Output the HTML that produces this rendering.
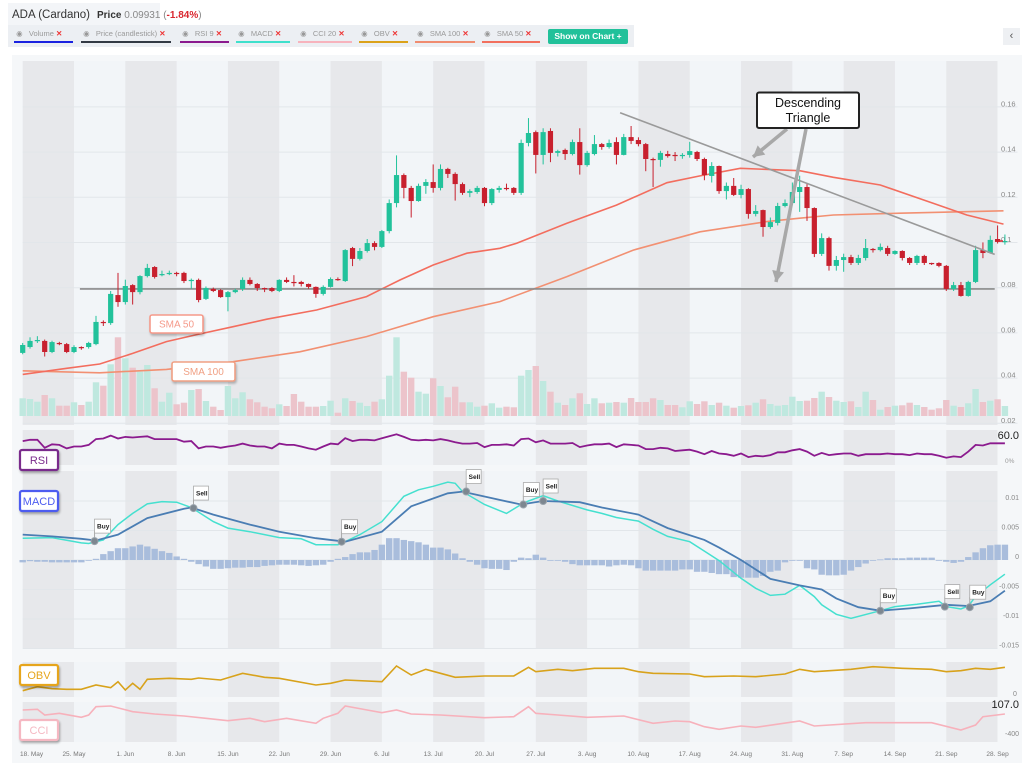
<!DOCTYPE html>
<html><head><meta charset="utf-8"><style>
body{margin:0;width:1024px;height:763px;overflow:hidden;background:#fff;font-family:"Liberation Sans",sans-serif;position:relative}
.hdr{position:absolute;left:8px;top:3px;width:152px;height:22px;background:#f3f5f8}
.title{position:absolute;left:12px;top:9px;font-size:11.5px;color:#333}
.price{position:absolute;left:97px;top:10px;font-size:10px;color:#333}
.legend{position:absolute;left:8px;top:25px;width:626px;height:22px;background:#eceff3}
.li{position:absolute;top:29px;font-size:7.5px;color:#999;height:14px;line-height:10px}
.li .x{color:#e33;font-weight:bold}
.li .u{position:absolute;left:0;right:0;top:12px;height:2px}
.btn{position:absolute;left:548px;top:29px;width:80px;height:15px;background:#21c19a;color:#fff;font-size:8.5px;font-weight:bold;line-height:15px;text-align:center;border-radius:2px}
.chev{position:absolute;left:1003px;top:28px;width:17px;height:17px;background:#eef0f3;color:#555;font-size:11px;text-align:center;line-height:17px}
svg{position:absolute;left:0;top:0}
</style></head><body>
<div class="hdr"></div>
<div class="title">ADA (Cardano)</div>
<div class="price"><b>Price</b> <span style="color:#888">0.09931</span> <span style="color:#888">(</span><b style="color:#d9262e">-1.84%</b><span style="color:#888">)</span></div>
<div class="legend"></div>
<div class="li" style="left:14px;width:59px">&nbsp;◉&nbsp;&nbsp; Volume <span class="x">✕</span><div class="u" style="background:#1a22e0"></div></div>
<div class="li" style="left:81px;width:90px">&nbsp;◉&nbsp;&nbsp; Price (candlestick) <span class="x">✕</span><div class="u" style="background:#333a44"></div></div>
<div class="li" style="left:180px;width:49px">&nbsp;◉&nbsp;&nbsp; RSI 9 <span class="x">✕</span><div class="u" style="background:#8b1a8e"></div></div>
<div class="li" style="left:236px;width:54px">&nbsp;◉&nbsp;&nbsp; MACD <span class="x">✕</span><div class="u" style="background:#3fe0cc"></div></div>
<div class="li" style="left:298px;width:54px">&nbsp;◉&nbsp;&nbsp; CCI 20 <span class="x">✕</span><div class="u" style="background:#f7b3bd"></div></div>
<div class="li" style="left:359px;width:49px">&nbsp;◉&nbsp;&nbsp; OBV <span class="x">✕</span><div class="u" style="background:#dba21a"></div></div>
<div class="li" style="left:415px;width:60px">&nbsp;◉&nbsp;&nbsp; SMA 100 <span class="x">✕</span><div class="u" style="background:#f08c70"></div></div>
<div class="li" style="left:482px;width:58px">&nbsp;◉&nbsp;&nbsp; SMA 50 <span class="x">✕</span><div class="u" style="background:#f2705e"></div></div>
<div class="btn">Show on Chart +</div>
<div class="chev">‹</div>
<svg id="c" width="1024" height="763" style="top:0"></svg>
<script>
const dates=["18. May","25. May","1. Jun","8. Jun","15. Jun","22. Jun","29. Jun","6. Jul","13. Jul","20. Jul","27. Jul","3. Aug","10. Aug","17. Aug","24. Aug","31. Aug","7. Sep","14. Sep","21. Sep","28. Sep"];
const priceTicks=[0.02,0.04,0.06,0.08,0.1,0.12,0.14,0.16];
const opens=[.0496,.0522,.0549,.0549,.0500,.0540,.0535,.0500,.0522,.0522,.0535,.0633,.0628,.0752,.0721,.0796,.0765,.0836,.0876,.0841,.0845,.0850,.0850,.0814,.0819,.0735,.0779,.0774,.0743,.0765,.0779,.0819,.0801,.0783,.0783,.0770,.0819,.0810,.0810,.0801,.0788,.0757,.0788,.0823,.0814,.0960,.0912,.0947,.0982,.0965,.1035,.1159,.1283,.1226,.1168,.1235,.1252,.1226,.1310,.1288,.1243,.1204,.1208,.1226,.1159,.1217,.1226,.1226,.1204,.1425,.1473,.1372,.1478,.1381,.1394,.1376,.1429,.1327,.1376,.1420,.1407,.1429,.1372,.1451,.1438,.1420,.1354,.1350,.1376,.1372,.1367,.1372,.1385,.1354,.1279,.1323,.1212,.1235,.1195,.1221,.1111,.1128,.1053,.1071,.1146,.1159,.1208,.1230,.1137,.0934,.1004,.0881,.0907,.0920,.0894,.0916,.0956,.0951,.0960,.0934,.0947,.0916,.0894,.0925,.0894,.0894,.0881,.0779,.0796,.0748,.0810,.0951,.0938,.1000,.0987];
const closes=[.0531,.0549,.0553,.0500,.0544,.0535,.0500,.0522,.0518,.0540,.0633,.0628,.0757,.0721,.0792,.0765,.0836,.0872,.0832,.0845,.0850,.0845,.0814,.0819,.0730,.0783,.0770,.0743,.0765,.0774,.0819,.0801,.0783,.0779,.0770,.0819,.0810,.0805,.0801,.0788,.0757,.0788,.0823,.0819,.0951,.0912,.0947,.0982,.0965,.1035,.1159,.1283,.1226,.1168,.1235,.1252,.1226,.1310,.1288,.1243,.1204,.1212,.1226,.1159,.1221,.1226,.1221,.1204,.1425,.1469,.1372,.1473,.1381,.1389,.1376,.1429,.1327,.1381,.1420,.1407,.1425,.1372,.1451,.1434,.1420,.1354,.1350,.1381,.1367,.1367,.1372,.1389,.1354,.1283,.1323,.1212,.1235,.1195,.1221,.1111,.1124,.1053,.1075,.1146,.1159,.1208,.1230,.1137,.0934,.1004,.0881,.0907,.0920,.0894,.0916,.0960,.0951,.0965,.0934,.0947,.0916,.0894,.0925,.0894,.0889,.0881,.0779,.0796,.0748,.0810,.0951,.0938,.0996,.0987,.0991];
const highs=[.0540,.0565,.0570,.0555,.0550,.0545,.0540,.0530,.0525,.0545,.0660,.0640,.0770,.0850,.0820,.0800,.0840,.0890,.0880,.0860,.0860,.0855,.0855,.0825,.0825,.0790,.0785,.0778,.0770,.0780,.0830,.0830,.0805,.0785,.0787,.0822,.0830,.0840,.0815,.0803,.0790,.0795,.0830,.0830,.0955,.0965,.0960,.1000,.0990,.1040,.1175,.1370,.1290,.1235,.1245,.1265,.1330,.1330,.1315,.1295,.1250,.1220,.1235,.1230,.1225,.1235,.1245,.1230,.1440,.1535,.1480,.1490,.1490,.1395,.1400,.1440,.1490,.1390,.1460,.1425,.1440,.1450,.1465,.1500,.1450,.1425,.1360,.1390,.1390,.1385,.1380,.1430,.1390,.1360,.1340,.1325,.1250,.1270,.1240,.1225,.1150,.1130,.1095,.1160,.1175,.1250,.1280,.1245,.1140,.1025,.1010,.0925,.0935,.0930,.0930,.1000,.0960,.0980,.0970,.0950,.0950,.0920,.0930,.0930,.0895,.0897,.0885,.0810,.0810,.0815,.0970,.0985,.1015,.1060,.1020];
const lows=[.0490,.0515,.0540,.0480,.0495,.0530,.0495,.0495,.0510,.0515,.0530,.0615,.0620,.0700,.0710,.0710,.0755,.0830,.0825,.0835,.0840,.0835,.0805,.0780,.0720,.0730,.0765,.0740,.0680,.0760,.0770,.0795,.0770,.0765,.0765,.0765,.0805,.0790,.0790,.0780,.0740,.0750,.0785,.0815,.0810,.0880,.0905,.0940,.0950,.0960,.1025,.1140,.1180,.1095,.1165,.1200,.1205,.1215,.1270,.1170,.1195,.1185,.1200,.1145,.1150,.1205,.1215,.1195,.1195,.1410,.1290,.1330,.1340,.1365,.1350,.1370,.1285,.1320,.1370,.1395,.1400,.1330,.1370,.1420,.1410,.1300,.1230,.1320,.1360,.1345,.1355,.1360,.1345,.1260,.1250,.1200,.1175,.1190,.1180,.1090,.1100,.1010,.1045,.1060,.1140,.1150,.1120,.1080,.0920,.0925,.0860,.0860,.0855,.0885,.0885,.0905,.0940,.0945,.0925,.0930,.0905,.0885,.0885,.0885,.0885,.0875,.0770,.0770,.0745,.0745,.0805,.0915,.0935,.0980,.0975];
const volumes=[177,170,143,210,177,103,103,137,110,143,337,303,517,787,577,483,443,510,277,143,233,117,133,260,270,150,93,60,300,177,237,167,137,93,77,117,100,220,143,93,93,100,153,33,177,150,133,100,143,167,403,787,443,383,243,223,377,300,187,293,137,137,93,103,127,83,93,87,403,460,500,350,243,133,110,177,227,120,177,127,133,140,133,180,140,140,177,160,110,110,87,147,120,147,110,133,103,83,100,107,133,167,120,103,110,193,150,153,180,243,190,153,140,147,90,243,160,63,90,103,107,133,110,90,63,77,160,103,90,127,270,140,153,167,100];
const sma50Days=[0,6,10.5,15,19.6,24.2,28.7,33.3,40.1,46.9,51.5,56,60.6,65.1,67.4,74.2,81,87.9,92.4,97.9,103.8,106,110.6,117,124.2,128.8,133.8];
const sma50Vals=[.0401,.0428,.0447,.0494,.0546,.0580,.0612,.0645,.0686,.0745,.0819,.0885,.0937,.0959,.0981,.1069,.1150,.1249,.1279,.1313,.1305,.1302,.1273,.1239,.1158,.1106,.1066];
const sma100Days=[0,10.5,19.6,28.7,37.8,46.9,56,65.1,74.2,83.3,92.4,101.5,106,110.6,119.7,133.8];
const sma100Vals=[.0417,.0408,.0423,.0457,.0501,.0568,.0656,.0723,.0833,.0951,.1032,.1077,.1092,.1106,.1114,.1125];
const rsiVals=[67,71,71,46,57,55,44,50,50,55,73,75,84,75,80,78,80,82,73,73,73,73,65,67,44,50,50,46,50,53,59,53,50,50,44,59,55,55,50,44,40,50,59,57,76,67,71,71,69,76,82,88,80,71,69,71,69,73,69,63,59,59,61,48,55,55,57,53,73,75,63,69,59,59,59,61,48,53,57,57,59,48,57,55,53,42,42,46,44,36,38,40,34,26,36,28,26,21,28,17,21,19,23,32,32,38,42,34,21,30,23,26,28,28,21,26,26,26,28,26,26,23,28,26,26,21,15,19,17,34,55,53,60,60,60];
const macdDays=[0,4,8,9,11,13,15,17,19,21,23,26,28,31,35,38,40,43,44,46,49,52,54,56,58,59,60,63,66,68,69,71,73,77,79,81,84,86,88,91,93,95,98,100,102,104,106,108,109,111,113,117,119,122,125,126,128,129,130,132,134];
const macdVals=[3.7,3.8,2.9,2.8,3.4,6.0,7.9,9.5,9.9,9.8,8.9,6.5,5.4,4.8,3.8,3.6,2.6,2.6,3.1,4.3,6.5,10.8,11.9,12.5,13.2,13.0,11.6,9.4,7.9,9.4,10.0,10.9,10.0,8.5,7.9,7.2,6.6,5.2,4.0,3.1,1.5,-0.1,-3.1,-4.8,-6.0,-5.8,-4.3,-6.2,-7.6,-9.2,-9.9,-8.6,-7.9,-7.5,-7.0,-7.9,-8.3,-7.8,-6.2,-4.2,-2.4];
const signalDays=[0,4,8,10,13,17,22,23,26,31,35,40,44,49,53,58,60,65,68,71,76,79,84,88,93,95,98,102,106,109,111,114,117,121,126,129,132,134];
const signalVals=[4.3,4.0,3.6,3.3,4.3,7.1,8.7,8.9,7.7,6.0,4.8,3.7,3.1,4.8,9.1,11.3,11.6,10.2,9.4,10.0,9.8,8.9,7.7,5.4,3.4,2.1,0.0,-3.2,-4.3,-5.0,-6.5,-8.0,-8.6,-8.2,-7.6,-7.8,-7.0,-5.2];
const histVals=[-0.4,-0.2,-0.3,-0.3,-0.4,-0.4,-0.4,-0.4,-0.4,0,0.2,1.0,1.5,2.0,2.0,2.3,2.6,2.3,1.9,1.5,1.2,0.6,0.2,-0.3,-0.7,-1.1,-1.5,-1.5,-1.4,-1.3,-1.3,-1.2,-1.2,-1.0,-0.9,-0.8,-0.8,-0.8,-0.9,-1.0,-0.9,-0.8,-0.3,0.2,0.5,1.0,1.3,1.3,1.7,2.6,3.7,3.7,3.4,3.2,3.0,2.6,2.1,2.1,1.8,1.1,0.3,-0.3,-0.8,-1.4,-1.5,-1.5,-1.7,-0.3,0.4,0.3,0.9,0.4,0,0,-0.3,-0.7,-0.9,-0.9,-0.9,-0.9,-1.1,-0.9,-0.8,-0.9,-1.4,-1.8,-1.8,-1.8,-1.8,-1.8,-1.6,-1.6,-2.0,-2.0,-2.2,-2.4,-2.4,-2.9,-3.0,-3.0,-3.0,-2.7,-2.0,-1.8,-0.4,0,0,-1.4,-1.6,-2.5,-2.6,-2.6,-2.5,-1.8,-1.2,-0.6,0,0.1,0.3,0.3,0.3,0.4,0.4,0.4,0.4,0,-0.3,-0.5,-0.3,0.5,1.3,2.0,2.5,2.6,2.6];
const macdTicks=[10,5,0,-5,-10,-15];
const macdTickLabels=["0.01","0.005","0","-0.005","-0.01","-0.015"];
const sigDays=[9.8,23.3,43.5,60.5,68.3,71,117,125.8,129.2];
const sigTypes=["Buy","Sell","Buy","Sell","Buy","Sell","Buy","Sell","Buy"];
const sigVals=[3.2,8.8,3.1,11.6,9.4,10.0,-8.6,-7.9,-8.0];
const obvDays=[0,2,4,6,8,10,12,13,14,15,16,17,20,23,24,27,30,33,35,40,42,44,49,51,53,55,57,59,63,67,69,70,73,75,78,82,84,86,91,93,97,100,104,106,108,113,116,120,124,126,128,130,132,134];
const obvVals=[.23,.63,.43,.37,.37,.8,.53,1.13,.3,.97,.37,1.37,1.47,1.37,1.5,1.3,1.97,1.57,1.47,.8,.97,1.3,1.13,2.7,1.8,2.37,1.97,1.57,1.7,1.7,2.57,2.13,2.37,2.23,2.47,2.47,2.13,1.97,1.9,1.63,1.7,1.63,1.9,2.37,2.13,2.37,2.63,2.47,2.37,2.13,2.23,2.47,2.37,2.57];
const cciDays=[0,2,3,5,8,9,10,12,15,18,22,25,28,31,33,36,40,41,43,44,47,49,51,53,57,63,67,69,70,73,77,82,86,89,91,93,95,98,100,106,108,115,124,128,130,131,134];
const cciVals=[209,226,82,125,23,82,292,310,165,107,56,-2,-63,-2,-88,-2,-129,-2,125,310,209,140,209,107,82,14,39,292,125,82,23,56,-129,-71,-88,-215,-281,-198,-231,-71,-198,-114,-114,-299,-172,39,107];
const trendDays=[81.5,132.6];
const trendVals=[.1559,.0932];
const supportDays=[7.8,132.6];
const supportVals=[.0779,.0779];

const NS="http://www.w3.org/2000/svg";
const svg=document.getElementById('c');
function el(tag,attrs,parent){const e=document.createElementNS(NS,tag);for(const k in attrs)e.setAttribute(k,attrs[k]);(parent||svg).appendChild(e);return e;}
const X=i=>22.7+7.33*i;
const yP=v=>239-(v-0.1)*2260;
const yM=v=>560-v*5.9;
const yR=r=>462.5-r*0.32;
const yO=v=>693-v*10;
const yC=v=>714-(v-107)*0.0394;
const plotL=22.7, plotR=997.5;

let bg=el('rect',{x:12,y:55,width:1010,height:708,fill:'#f5f7f9'});


const panels=[[61,425,'price-panel'],[430,465,'rsi-panel'],[471,648,'macd-panel'],[662,697,'obv-panel'],[702,742,'cci-panel']];
panels.forEach(p=>{
  const r=el('rect',{x:plotL,y:p[0],width:plotR-plotL,height:p[1]-p[0],fill:'#f2f5f8'});
  
  
  dates.forEach((d,k)=>{ if(k%2===0){
    const b=el('rect',{x:X(7*k),y:p[0],width:Math.min(X(7*k+7),plotR)-X(7*k),height:p[1]-p[0],fill:'#e7e8eb'});
    
    
  }});
});
priceTicks.forEach(t=>{
  const g=el('line',{x1:plotL,x2:plotR+20,y1:yP(t)+3.5,y2:yP(t)+3.5,stroke:'#e2e6ea','stroke-width':1});
  
  
  const tx=el('text',{x:1001,y:yP(t)+3,'font-size':7.5,fill:'#888'});tx.textContent=String(t);
  
  
});
volumes.forEach((v,i)=>{
  const up=closes[i]>=opens[i];
  const h=v/10;
  const b=el('rect',{x:X(i)-3.2,y:416-h,width:6.4,height:h,fill:up?'#bfe8df':'#ecc4cb'});
  
  
});
function path(days,vals,fx,fy,attrs,name){
  let d='';days.forEach((dd,i)=>{d+=(i?'L':'M')+fx(dd).toFixed(1)+','+fy(vals[i]).toFixed(1);});
  const p=el('path',Object.assign({d:d,fill:'none'},attrs));
  
  
  return p;
}
path(sma100Days,sma100Vals,X,yP,{stroke:'#f29072','stroke-width':1.6},'sma100-line');
path(sma50Days,sma50Vals,X,yP,{stroke:'#f36d5e','stroke-width':1.6},'sma50-line');
path(supportDays,supportVals,X,yP,{stroke:'#8a8a8a','stroke-width':1.6},'support-line');
opens.forEach((o,i)=>{
  const c=closes[i],up=c>=o,col=up?'#22c29b':'#c8202e';
  const w=el('line',{x1:X(i),x2:X(i),y1:yP(highs[i]),y2:yP(lows[i]),stroke:col,'stroke-width':1});
  
  
  const top=yP(Math.max(o,c)),h=Math.max(1.2,Math.abs(yP(o)-yP(c)));
  const b=el('rect',{x:X(i)-2.6,y:top,width:5.2,height:h,fill:col});
  
  
});
path(trendDays,trendVals,X,yP,{stroke:'#9a9a9a','stroke-width':1.6},'descending-trendline');
let cp=el('line',{x1:998,x2:1003,y1:yP(closes[closes.length-1]),y2:yP(closes[closes.length-1]),stroke:'#d9262e','stroke-width':1.5});


function arrow(x1,y1,x2,y2,name){
  const a=el('line',{x1,y1,x2,y2,stroke:'#a8a8a8','stroke-width':3.5});
  
  
  const ang=Math.atan2(y2-y1,x2-x1),L=11,W=6;
  const bx=x2-L*Math.cos(ang),by=y2-L*Math.sin(ang);
  const h=el('polygon',{points:`${x2},${y2} ${bx+W*Math.sin(ang)},${by-W*Math.cos(ang)} ${bx-W*Math.sin(ang)},${by+W*Math.cos(ang)}`,fill:'#a8a8a8'});
  
  
}
arrow(787,129,753,157,'annotation-arrow-trend');
arrow(806,129,776,282,'annotation-arrow-support');
let ab=el('rect',{x:757,y:92.5,width:102,height:35.5,fill:'#fff',stroke:'#222','stroke-width':2,rx:2});


[['Descending',107],['Triangle',122]].forEach(t=>{
  const tx=el('text',{x:808,y:t[1],'font-size':12.5,fill:'#111','text-anchor':'middle'});tx.textContent=t[0];
  
  
});
function tag(x,y,w,h,txt,col,name){
  const r=el('rect',{x,y,width:w,height:h,fill:'#fff',stroke:col,'stroke-width':1.6,rx:2,style:'filter:drop-shadow(1px 2px 1px rgba(0,0,0,.25))'});
  
  
  const t=el('text',{x:x+w/2,y:y+h/2+3.5,'font-size':10,fill:col,'text-anchor':'middle'});t.textContent=txt;
  
  
}
tag(150,315,53,18,'SMA 50','#f59a8a','sma50-label');
tag(172,362,63,19,'SMA 100','#f0a084','sma100-label');
path(rsiVals.map((v,i)=>i),rsiVals,X,yR,{stroke:'#8b1a8e','stroke-width':1.8},'rsi-line');
let rl=el('text',{x:1019,y:439,'font-size':11,fill:'#222','text-anchor':'end'});rl.textContent=rsiVals[rsiVals.length-1].toFixed(1);


let r0=el('text',{x:1005,y:463,'font-size':6.5,fill:'#999'});r0.textContent='0%';


macdTicks.forEach((t,k)=>{
  const g=el('line',{x1:plotL,x2:plotR,y1:yM(t),y2:yM(t),stroke:'#e2e6ea','stroke-width':1});
  
  
  const tx=el('text',{x:1019,y:yM(t)-1,'font-size':7,fill:'#888','text-anchor':'end'});tx.textContent=macdTickLabels[k];
  
  
});
histVals.forEach((v,i)=>{
  const y0=yM(0),y1=yM(v);
  const b=el('rect',{x:X(i)-3.2,y:Math.min(y0,y1),width:6.4,height:Math.max(0.8,Math.abs(y1-y0)),fill:'#a9bddc'});
  
  
});
path(macdDays,macdVals,X,yM,{stroke:'#45e0cf','stroke-width':1.5},'macd-line');
path(signalDays,signalVals,X,yM,{stroke:'#4a7db3','stroke-width':1.8},'macd-signal-line');
sigDays.forEach((d,k)=>{
  const x=X(d),y=yM(sigVals[k]);
  const s=el('line',{x1:x,x2:x,y1:y,y2:y-10,stroke:'#aaa','stroke-width':1});
  
  
  const b=el('rect',{x:x,y:y-22,width:sigTypes[k]==='Buy'?16:15,height:14,fill:'#fff',stroke:'#aaa','stroke-width':0.8});
  
  
  const t=el('text',{x:x+2.5,y:y-12.5,'font-size':6.5,'font-weight':'bold',fill:'#222'});t.textContent=sigTypes[k];
  
  
  const c=el('circle',{cx:x,cy:y,r:3.5,fill:'#7d8790',stroke:'#9aa3ab','stroke-width':1});
  
  
});
path(obvDays,obvVals,X,yO,{stroke:'#d8a21b','stroke-width':1.6},'obv-line');
let o0=el('text',{x:1013,y:696,'font-size':7,fill:'#888'});o0.textContent='0';


path(cciDays,cciVals,X,yC,{stroke:'#f7b1bb','stroke-width':1.6},'cci-line');
let cv=el('text',{x:1019,y:708,'font-size':11,fill:'#222','text-anchor':'end'});cv.textContent=cciVals[cciVals.length-1].toFixed(1);


let c4=el('text',{x:1019,y:736,'font-size':7,fill:'#888','text-anchor':'end'});c4.textContent='-400';


[[450,'RSI','#7a2b8c','#7a2b8c'],[491,'MACD','#4d5cf0','#4d5cf0'],[665,'OBV','#e6a51c','#e6a51c'],[720,'CCI','#f5b8c2','#f5b8c2']].forEach(l=>{
  const r=el('rect',{x:20,y:l[0],width:38,height:20,fill:'#fff',stroke:l[2],'stroke-width':2.2,rx:2,style:'filter:drop-shadow(1px 2px 1px rgba(0,0,0,.3))'});
  
  
  const t=el('text',{x:39,y:l[0]+14,'font-size':11,fill:l[3],'text-anchor':'middle'});t.textContent=l[1];
  
  
});
dates.forEach((d,k)=>{
  const x=X(7*k);
  const t=el('text',{x:k===0?20:x,y:756,'font-size':6.5,fill:'#777','text-anchor':k===0?'start':'middle'});t.textContent=d;
  
  
});
</script>
</body></html>
